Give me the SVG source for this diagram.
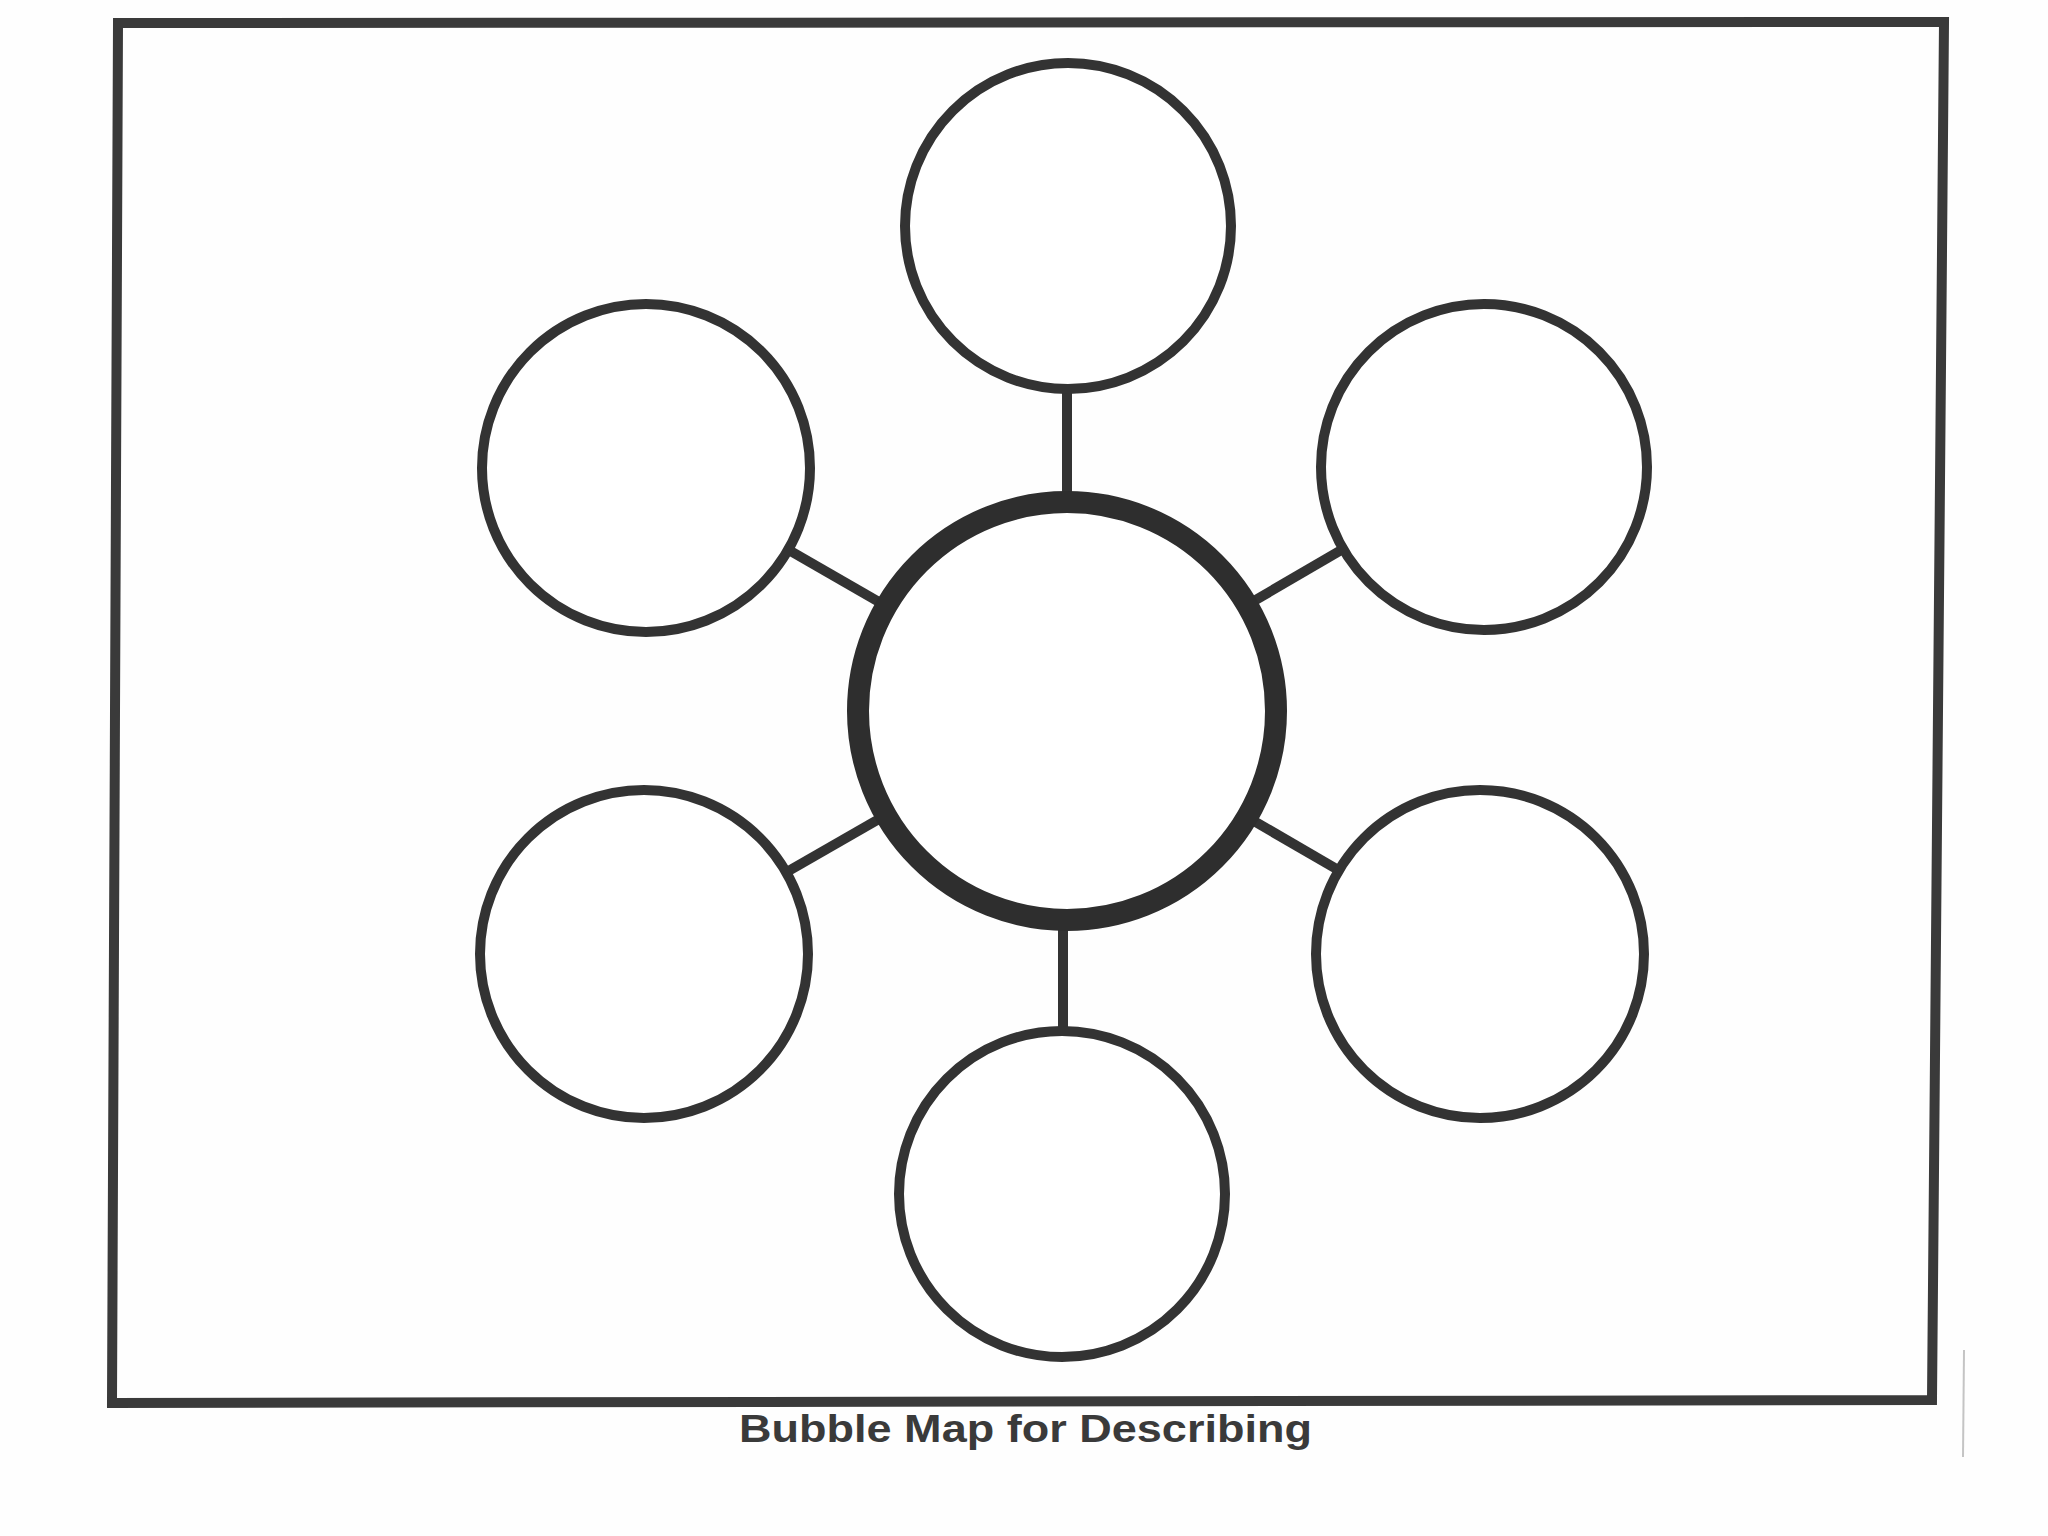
<svg xmlns="http://www.w3.org/2000/svg" width="2048" height="1536" viewBox="0 0 2048 1536">
  <style>
    .frame { fill: none; stroke: #3a3a3a; stroke-width: 10; stroke-linejoin: miter; }
    .bubble { fill: #ffffff; stroke: #333333; stroke-width: 10; }
    .center { fill: #ffffff; stroke: #2e2e2e; stroke-width: 22; }
    .conn { stroke: #333333; stroke-width: 10; stroke-linecap: butt; }
    .title { font-family: "Liberation Sans", Arial, sans-serif; font-weight: bold; font-size: 39px; fill: #3a3a3a; }
  </style>
  <rect x="0" y="0" width="2048" height="1536" fill="#fefefe"/>
  <polygon id="frame" class="frame" points="118,23 1944,22 1932,1400 112,1403"/>
  <line x1="1964" y1="1350" x2="1963" y2="1457" stroke="#c4c4c4" stroke-width="2"/>
  <g id="connectors">
    <line class="conn" x1="1067" y1="505" x2="1067" y2="387"/>
    <line class="conn" x1="886" y1="606" x2="787" y2="549"/>
    <line class="conn" x1="1247" y1="605" x2="1343" y2="549"/>
    <line class="conn" x1="886" y1="815" x2="785" y2="873"/>
    <line class="conn" x1="1247" y1="817" x2="1340" y2="871"/>
    <line class="conn" x1="1063" y1="917" x2="1063" y2="1033"/>
  </g>
  <g id="node-center"><circle class="center" cx="1067" cy="711" r="209"/></g>
  <g id="node-top"><circle class="bubble" cx="1068" cy="226" r="163"/></g>
  <g id="node-upper-left"><circle class="bubble" cx="646" cy="468" r="164"/></g>
  <g id="node-upper-right"><circle class="bubble" cx="1484" cy="467" r="163"/></g>
  <g id="node-lower-left"><circle class="bubble" cx="644" cy="954" r="164"/></g>
  <g id="node-lower-right"><circle class="bubble" cx="1480" cy="954" r="164"/></g>
  <g id="node-bottom"><circle class="bubble" cx="1062" cy="1194" r="163"/></g>
  <text class="title" x="739" y="1442" textLength="573" lengthAdjust="spacingAndGlyphs">Bubble Map for Describing</text>
</svg>
